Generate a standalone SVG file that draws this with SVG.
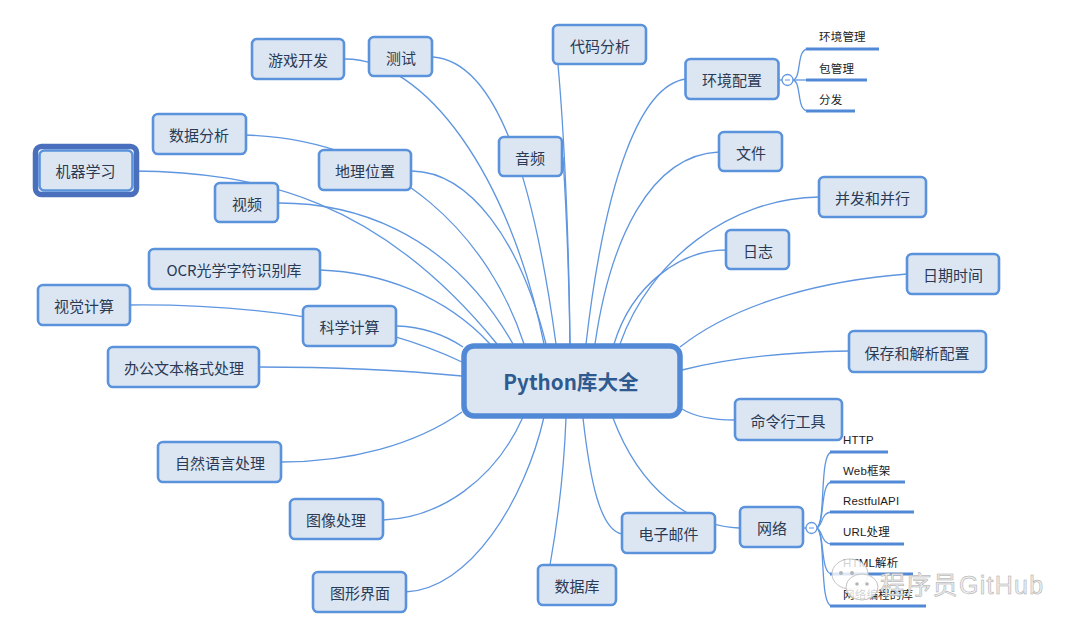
<svg xmlns="http://www.w3.org/2000/svg" width="1080" height="632" viewBox="0 0 1080 632">
<style>
text{font-family:"Noto Sans CJK SC","Liberation Sans",sans-serif}
.bg{fill:#fff}
.n{fill:#dce6f3;stroke:#5b92dc;stroke-width:2.6}
.t{font-size:15px;fill:#2a3a55;text-anchor:middle;dominant-baseline:central;transform:translateY(-1px)}
.c{fill:none;stroke:#5f96e0;stroke-width:1.3}
.bar{fill:none;stroke:#5289d6;stroke-width:3}
.s{font-size:11.5px;fill:#1c1c1c;dominant-baseline:central;font-family:"Liberation Sans","Noto Sans CJK SC",sans-serif;letter-spacing:.2px}
.k{fill:#fff;stroke:#5f96e0;stroke-width:1.3}
.m{stroke:#5f96e0;stroke-width:1}
.wm{font-size:25px;letter-spacing:1.300px;font-weight:400;fill:#eeeeee;stroke:#a8a8a8;stroke-width:.5;dominant-baseline:central;font-family:"Liberation Sans","Noto Sans CJK SC",sans-serif}
.wb{fill:#fff;fill-opacity:.8;stroke:#c4c4c4;stroke-width:1}
.wd{fill:#b5b5b5}
</style>
<rect class="bg" width="1080" height="632"/>
<g id="connectors">
<path class="c" d="M344 59C425 58 510 175 544 344"/>
<path class="c" d="M433 57C500 62 535 190 556 344"/>
<path class="c" d="M558 65C564 130 569 240 570 344"/>
<path class="c" d="M563 157C567 220 569 280 570 344"/>
<path class="c" d="M686 79C640 85 605 180 586 344"/>
<path class="c" d="M719 152C650 155 610 240 595 344"/>
<path class="c" d="M819 197C730 198 650 260 620 344"/>
<path class="c" d="M726 250C680 250 632 285 614 344"/>
<path class="c" d="M907 274C830 280 740 300 680 347"/>
<path class="c" d="M849 351C790 352 730 358 682 370"/>
<path class="c" d="M735 420C712 420 695 417 682 409"/>
<path class="c" d="M245 135C400 140 490 240 524 344"/>
<path class="c" d="M412 171C470 172 520 240 546 344"/>
<path class="c" d="M133 171C260 172 380 200 497 344"/>
<path class="c" d="M279 203C345 203 445 225 513 344"/>
<path class="c" d="M320 270C380 272 445 295 490 344"/>
<path class="c" d="M397 326C425 327 445 335 463 347"/>
<path class="c" d="M130 305C240 304 370 318 462 362"/>
<path class="c" d="M259 367C330 367 400 370 462 376"/>
<path class="c" d="M281 462C350 462 415 445 462 412"/>
<path class="c" d="M383 520C440 518 495 480 523 417"/>
<path class="c" d="M405 592C470 590 525 500 544 417"/>
<path class="c" d="M550 565C558 520 564 470 566 418"/>
<path class="c" d="M622 534C600 530 590 480 583 418"/>
<path class="c" d="M739 528C690 526 640 490 613 418"/>
<path class="c" d="M778 80H782"/>
<path class="c" d="M793 80H806"/>
<path class="c" d="M793 80C802 78 796 49 808 49"/>
<path class="c" d="M793 80C802 82 796 111 808 111"/>
<path class="c" d="M803 528H806"/>
<path class="c" d="M817 528C826 522 819 452 832 452"/>
<path class="c" d="M817 528C825 522 820 482 832 482"/>
<path class="c" d="M817 528C823 525 821 512 832 512"/>
<path class="c" d="M817 528C823 531 821 544 832 544"/>
<path class="c" d="M817 528C825 534 820 574 832 574"/>
<path class="c" d="M817 528C826 534 819 606 832 606"/>
<path class="bar" d="M806 49H879M806 80H867M806 111H855"/>
<path class="bar" d="M830 452H888M830 482H905M830 512H914M830 544H904M830 574H913M830 606H926"/>
<circle class="k" cx="787.500" cy="80" r="5.500"/><path class="m" d="M785 80H790"/>
<circle class="k" cx="811.500" cy="528" r="5.500"/><path class="m" d="M809 528H814"/>
</g>
<g id="center"><rect x="464" y="346" width="216" height="70" rx="10" fill="#dce6f3" stroke="#5289d6" stroke-width="5.500"/><text x="571" y="380.500" style="font-size:20.600px;font-weight:700;fill:#2f5a8f;text-anchor:middle;dominant-baseline:central">Python库大全</text></g>
<g id="n1"><rect class="n" x="252" y="39" width="92" height="40" rx="5"/><text class="t" x="298" y="60">游戏开发</text></g>
<g id="n2"><rect class="n" x="369" y="37" width="63" height="39" rx="5"/><text class="t" x="401" y="58">测试</text></g>
<g id="n3"><rect class="n" x="553" y="25" width="93" height="39" rx="5"/><text class="t" x="600" y="46">代码分析</text></g>
<g id="n4"><rect class="n" x="685.500" y="59" width="93" height="40" rx="5"/><text class="t" x="732" y="80">环境配置</text></g>
<g id="n5"><rect class="n" x="499" y="137" width="63" height="39" rx="5"/><text class="t" x="530" y="158">音频</text></g>
<g id="n6"><rect class="n" x="719" y="132" width="63" height="39" rx="5"/><text class="t" x="751" y="153">文件</text></g>
<g id="n7"><rect class="n" x="153" y="114" width="93" height="40" rx="5"/><text class="t" x="199" y="135">数据分析</text></g>
<g id="n8"><rect class="n" x="319" y="150" width="92" height="40" rx="5"/><text class="t" x="365" y="171">地理位置</text></g>
<g id="n9"><rect x="35.500" y="146.500" width="101" height="48" rx="6" fill="#fff" stroke="#4a70bd" stroke-width="5.500"/><rect class="n" x="39.500" y="150.500" width="93" height="40" rx="5"/><text class="t" x="85.500" y="171.500">机器学习</text></g>
<g id="n10"><rect class="n" x="215" y="183" width="63" height="39" rx="5"/><text class="t" x="247" y="204">视频</text></g>
<g id="n11"><rect class="n" x="819" y="177" width="107" height="40" rx="5"/><text class="t" x="872.500" y="198">并发和并行</text></g>
<g id="n12"><rect class="n" x="726" y="230" width="63" height="39" rx="5"/><text class="t" x="758" y="251">日志</text></g>
<g id="n13"><rect class="n" x="907" y="254" width="92" height="40" rx="5"/><text class="t" x="953" y="275">日期时间</text></g>
<g id="n14"><rect class="n" x="149" y="249" width="171" height="40" rx="5"/><text class="t" x="234" y="270">OCR光学字符识别库</text></g>
<g id="n15"><rect class="n" x="38" y="285" width="92" height="40" rx="5"/><text class="t" x="84" y="306">视觉计算</text></g>
<g id="n16"><rect class="n" x="303" y="306" width="93" height="40" rx="5"/><text class="t" x="349.500" y="327">科学计算</text></g>
<g id="n17"><rect class="n" x="108" y="347" width="151" height="40" rx="5"/><text class="t" x="184" y="368">办公文本格式处理</text></g>
<g id="n18"><rect class="n" x="849" y="331" width="137" height="41" rx="5"/><text class="t" x="917" y="353">保存和解析配置</text></g>
<g id="n19"><rect class="n" x="735" y="399" width="107" height="41" rx="5"/><text class="t" x="788" y="421">命令行工具</text></g>
<g id="n20"><rect class="n" x="158" y="442" width="123" height="40" rx="5"/><text class="t" x="220" y="463">自然语言处理</text></g>
<g id="n21"><rect class="n" x="290" y="499" width="93" height="40" rx="5"/><text class="t" x="336" y="520">图像处理</text></g>
<g id="n22"><rect class="n" x="313" y="572" width="93" height="40" rx="5"/><text class="t" x="360" y="593">图形界面</text></g>
<g id="n23"><rect class="n" x="538" y="565" width="78" height="40" rx="5"/><text class="t" x="577" y="586">数据库</text></g>
<g id="n24"><rect class="n" x="622" y="513" width="93" height="40" rx="5"/><text class="t" x="668.500" y="534">电子邮件</text></g>
<g id="n25"><rect class="n" x="740" y="507" width="63" height="40" rx="5"/><text class="t" x="772" y="528">网络</text></g>
<g id="sub-env"><text class="s" x="819" y="37">环境管理</text><text class="s" x="819" y="68.500">包管理</text><text class="s" x="819" y="99.500">分发</text></g>
<g id="sub-net"><text class="s" x="843" y="439.500">HTTP</text><text class="s" x="843" y="470.500">Web框架</text><text class="s" x="843" y="501">RestfulAPI</text><text class="s" x="843" y="532">URL处理</text><text class="s" x="843" y="563">HTML解析</text><text class="s" x="843" y="595">网络编程的库</text></g>
<g id="watermark"><ellipse class="wb" cx="850" cy="574" rx="18" ry="15"/><circle class="wd" cx="841" cy="573" r="2"/><circle class="wd" cx="852" cy="573" r="2"/><ellipse class="wb" cx="862" cy="587" rx="16" ry="13"/><circle class="wd" cx="857" cy="584" r="1.800"/><circle class="wd" cx="867" cy="584" r="1.800"/><text class="wm" x="880" y="585">程序员GitHub</text></g>
</svg>
